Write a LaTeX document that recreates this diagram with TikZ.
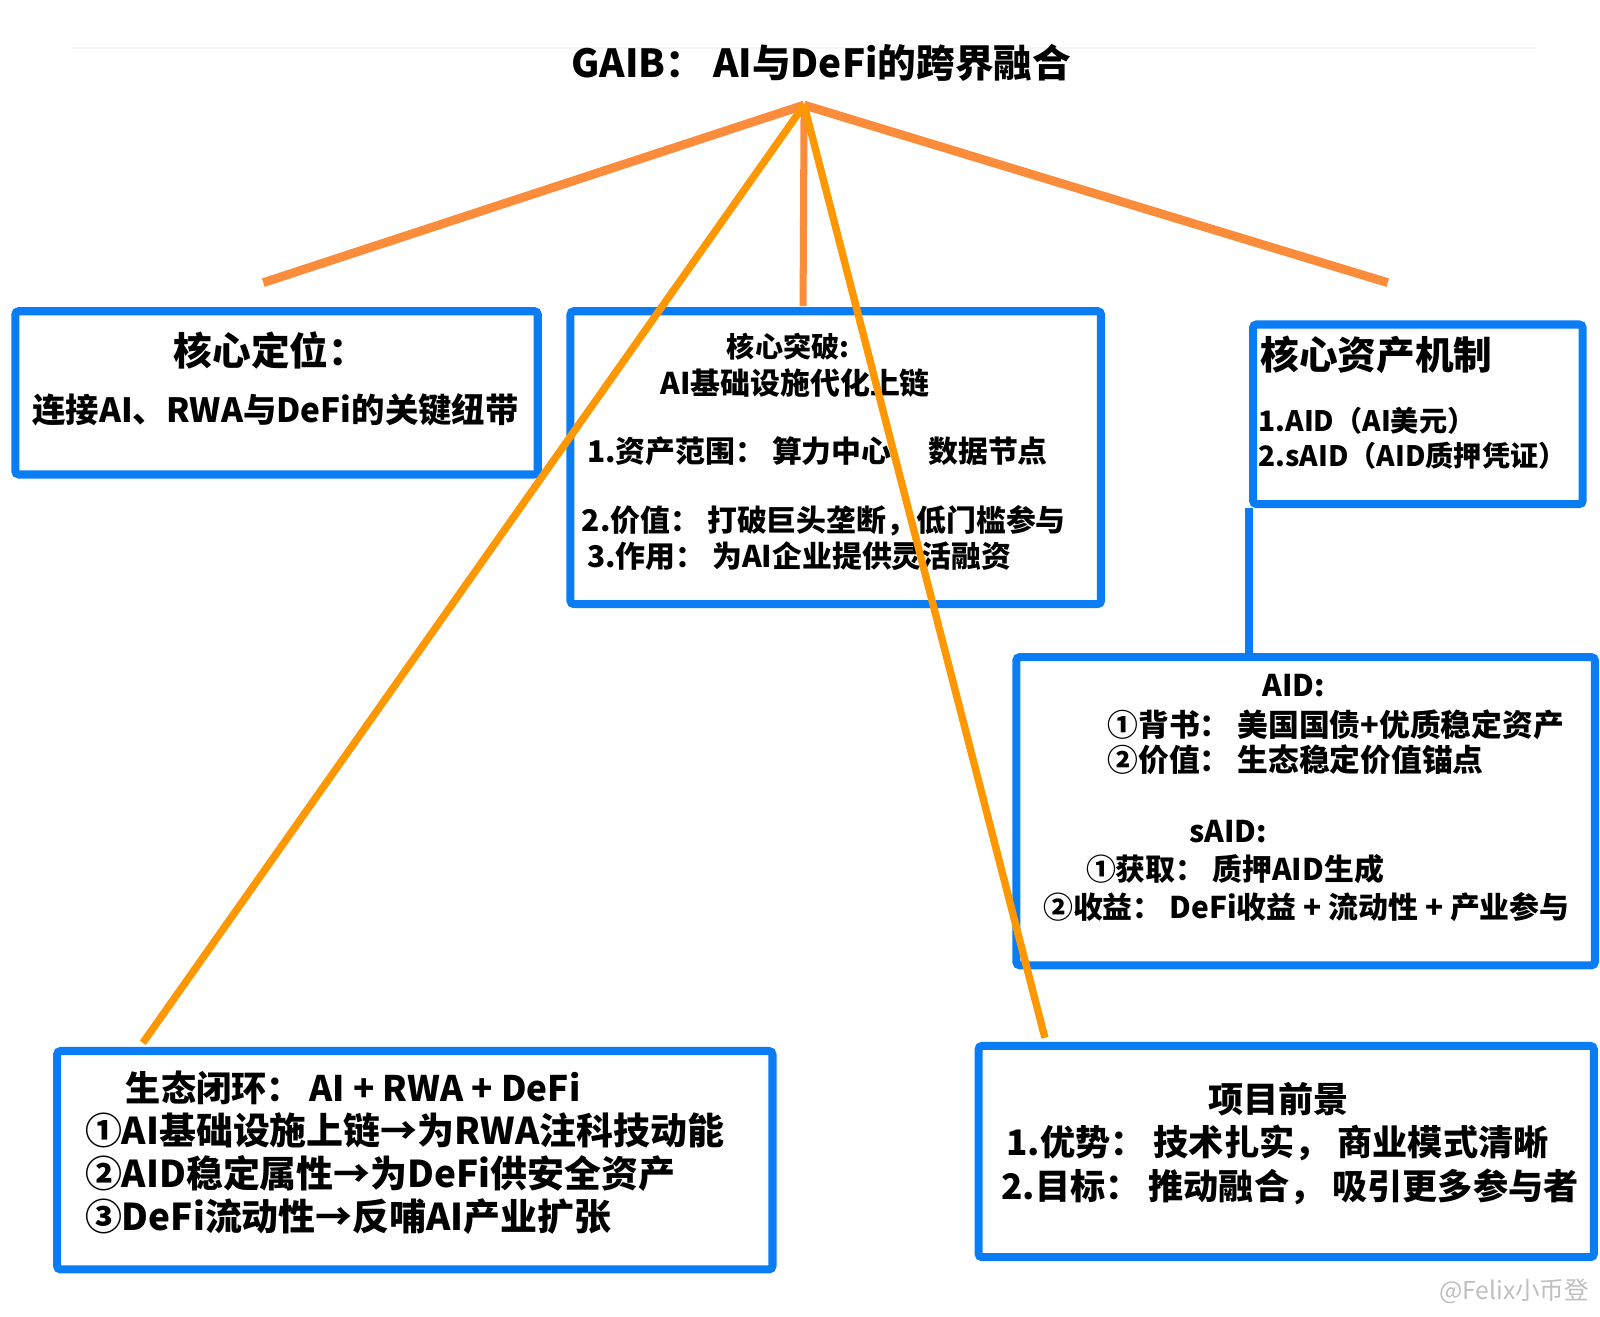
\documentclass[tikz,border=0pt]{standalone}
\usepackage{fontspec}
\setmainfont{Noto Sans CJK SC}
\usepackage{tikz}
\usetikzlibrary{fit}
\definecolor{boxblue}{RGB}{10,125,245}
\definecolor{forkorange}{RGB}{250,140,60}
\definecolor{longorange}{RGB}{255,152,0}

\begin{document}
\begin{tikzpicture}[x=0.0204cm, y=-0.0204cm,
    box/.style={draw=boxblue, line width=4.6pt, fill=white, rounded corners=2pt, inner sep=0pt},
    txt/.style={anchor=west, inner sep=0pt, font=\fontsize{17}{20}\selectfont\bfseries},
    head/.style={inner sep=0pt, font=\fontsize{21}{25}\selectfont\bfseries},
    fork/.style={draw=forkorange, line width=5pt},
    long/.style={draw=longorange, line width=4.2pt}]
      \useasboundingbox[fill=white] (0,0) rectangle (1568,1289.7);
      \draw[black!4, line width=1pt] (70,47) -- (1505,47);
      \node[head, font=\fontsize{22}{26}\selectfont\bfseries] (title) at (805,62) {GAIB： AI与DeFi的跨界融合};
      % boxes
      \node[box, fit={(15,305) (527,465)}] (b1) {};
      \node[box, fit={(559,305) (1079,592)}] (b2) {};
      \node[box, fit={(1228,318) (1551,494)}] (b3) {};
      \node[box, fit={(996,644) (1563,946)}] (b4) {};
      \node[box, fit={(56,1030) (757,1244)}] (b5) {};
      \node[box, fit={(959,1025) (1562,1232)}] (b6) {};
      \draw[draw=boxblue, line width=4.2pt] (b3.south west) -- (b3.south west |- b4.north);
      % core position
      \node[head, font=\fontsize{22}{26}\selectfont\bfseries] (t11) at (265,343) {核心定位：};
      \node[head, font=\fontsize{19}{23}\selectfont\bfseries] (t12) at (270,402) {连接AI、RWA与DeFi的关键纽带};
      % core breakthrough
      \node[txt, font=\fontsize{16}{19}\selectfont\bfseries] (t21) at (712,340) {核心突破:};
      \node[txt] (t22) at (647,375) {AI基础设施代化上链};
      \node[txt] (t23) at (575,442) {1.资产范围： 算力中心\quad\ 数据节点};
      \node[txt] (t24) at (570,510) {2.价值： 打破巨头垄断，低门槛参与};
      \node[txt] (t25) at (575,545) {3.作用： 为AI企业提供灵活融资};
      % core assets
      \node[txt, font=\fontsize{22}{26}\selectfont\bfseries] (t31) at (1235,348) {核心资产机制};
      \node[txt, font=\fontsize{16}{19}\selectfont\bfseries] (t32) at (1233,412) {1.AID（AI美元）};
      \node[txt, font=\fontsize{16}{19}\selectfont\bfseries] (t33) at (1233,447) {2.sAID（AID质押凭证）};
      % AID and sAID
      \node[txt] (t41) at (1237,672) {AID:};
      \node[txt, font=\fontsize{17.5}{21}\selectfont\bfseries] (t42) at (1085,710) {①背书： 美国国债+优质稳定资产};
      \node[txt, font=\fontsize{17.5}{21}\selectfont\bfseries] (t43) at (1085,745) {②价值： 生态稳定价值锚点};
      \node[txt] (t44) at (1165,815) {sAID:};
      \node[txt] (t45) at (1064,852) {①获取： 质押AID生成};
      \node[txt] (t46) at (1022,889) {②收益： DeFi收益 + 流动性 + 产业参与};
      % loop
      \node[txt, font=\fontsize{20}{24}\selectfont\bfseries] (t51) at (123,1066) {生态闭环： AI + RWA + DeFi};
      \node[txt, font=\fontsize{21}{25}\selectfont\bfseries] (t52) at (83,1108) {①AI基础设施上链→为RWA注科技动能};
      \node[txt, font=\fontsize{21}{25}\selectfont\bfseries] (t53) at (83,1150) {②AID稳定属性→为DeFi供安全资产};
      \node[txt, font=\fontsize{21}{25}\selectfont\bfseries] (t54) at (83,1192) {③DeFi流动性→反哺AI产业扩张};
      % outlook
      \node[head, font=\fontsize{20}{24}\selectfont\bfseries] (t61) at (1253,1077) {项目前景};
      \node[txt, font=\fontsize{20}{24}\selectfont\bfseries] (t62) at (986,1120) {1.优势： 技术扎实， 商业模式清晰};
      \node[txt, font=\fontsize{20}{24}\selectfont\bfseries] (t63) at (981,1163) {2.目标： 推动融合， 吸引更多参与者};
      \node[txt, text=black!25, font=\fontsize{14}{17}\selectfont] (mark) at (1410,1265) {@Felix小币登};
      % connectors
      \coordinate (apex) at (788,103);
      \coordinate (e1) at (258,277);
      \coordinate (e2) at (787,300);
      \coordinate (e3) at (1360,277);
      \coordinate (e4) at (140,1022);
      \coordinate (e5) at (1024,1017);
      \draw[fork] (apex) -- (e1);
      \draw[fork] (apex) -- (e3);
      \draw[fork, line width=4pt] (apex) -- (e2);
      \draw[long] (apex) -- (e4);
      \draw[long] (apex) -- (e5);
    \end{tikzpicture}
\end{document}
